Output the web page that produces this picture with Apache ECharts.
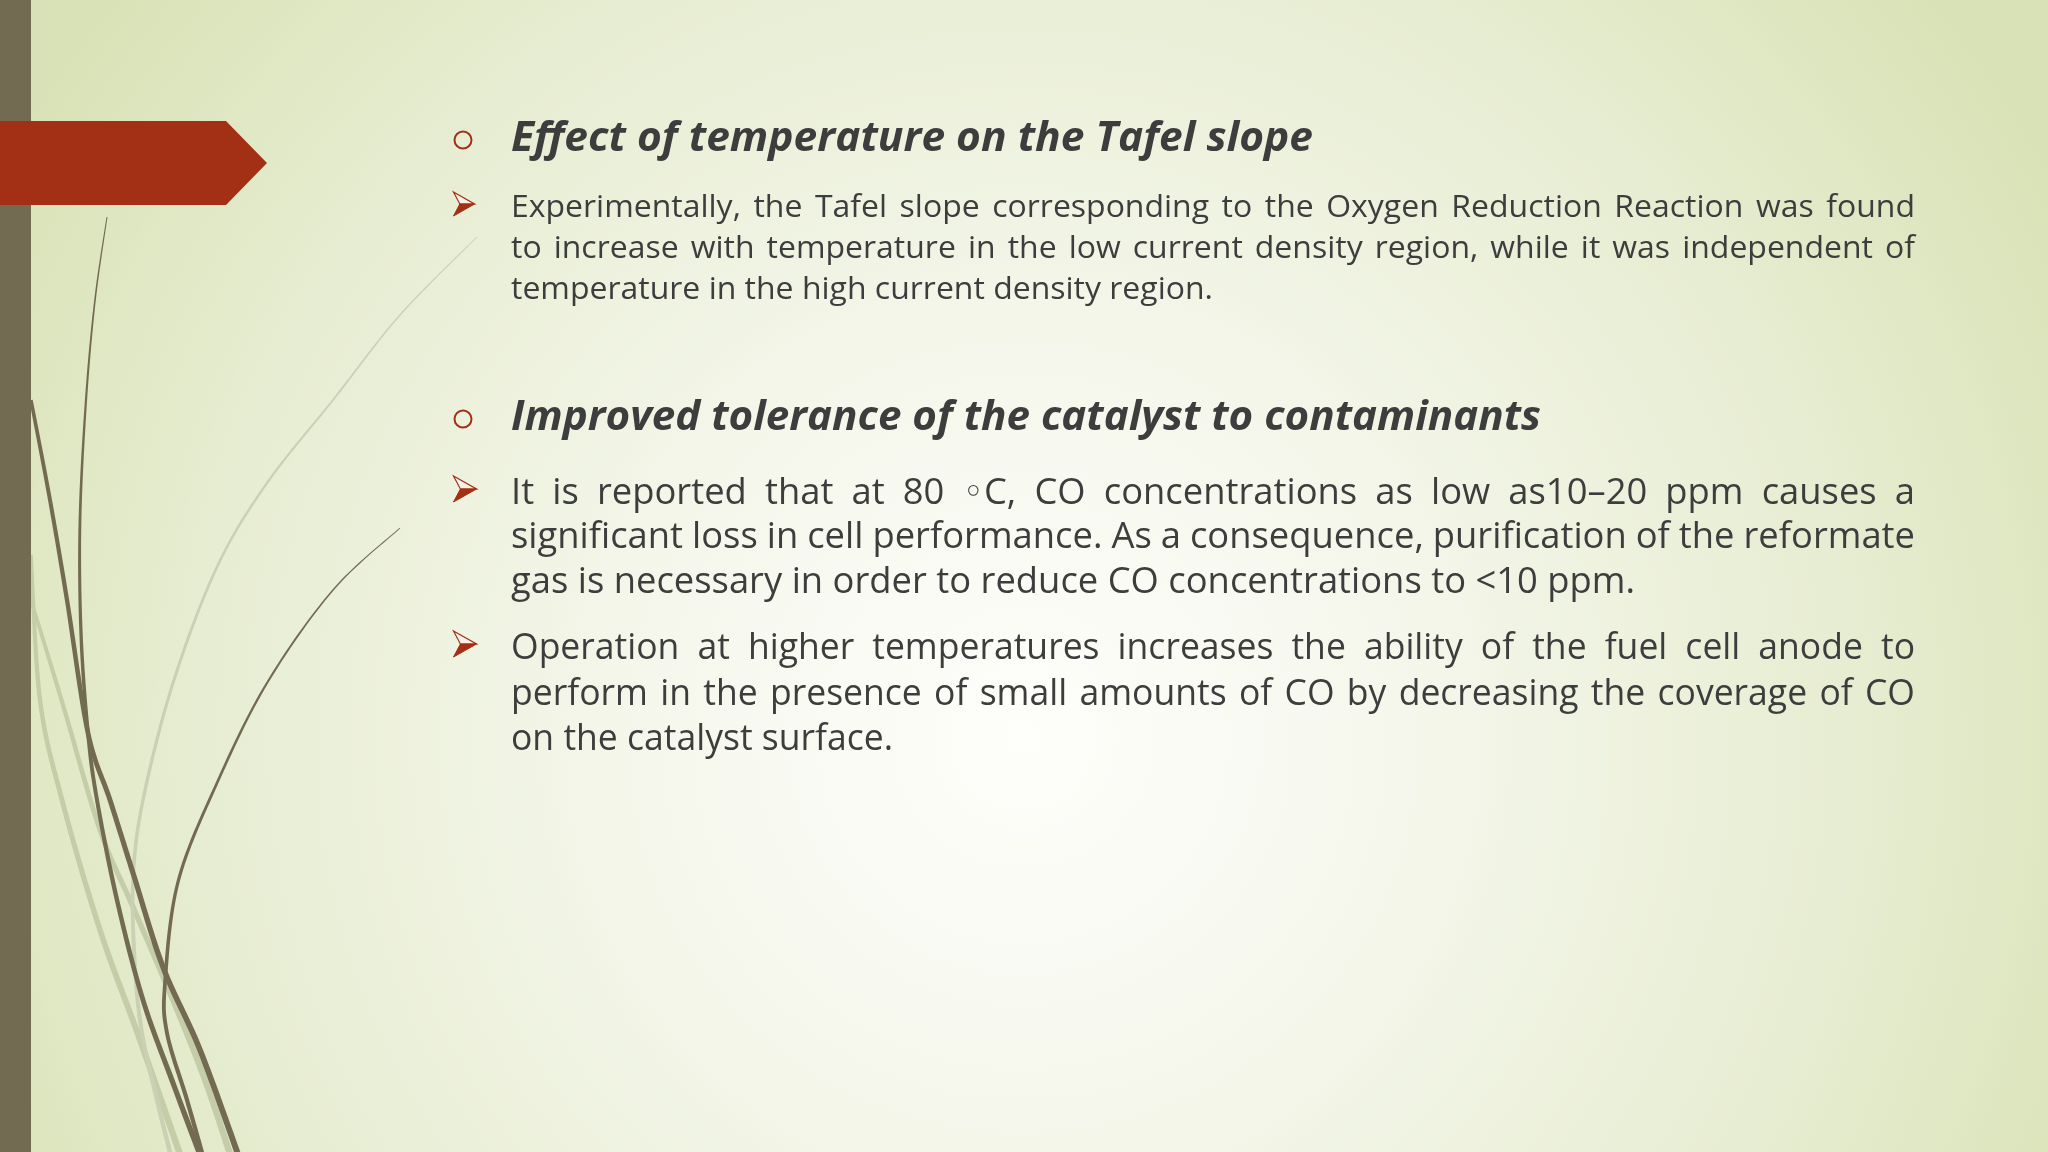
<!DOCTYPE html>
<html><head><meta charset="utf-8">
<script src="https://cdn.jsdelivr.net/npm/echarts@6/dist/echarts.min.js"></script>
<style>html,body{margin:0;padding:0;width:100%;height:100%;overflow:hidden;background:#e6ecd0}#c{width:2048px;height:1152px}</style>
</head><body><div id="c"></div><script>
// ---- content (text only) ----
const headings = [
  "Effect of temperature on the Tafel slope",
  "Improved tolerance of the catalyst to contaminants"
];
const para1Lines = [
  "Experimentally, the Tafel slope corresponding to the Oxygen Reduction Reaction was found",
  "to increase with temperature in the low current density region, while it was independent of",
  "temperature in the high current density region."
];
const para2Lines = [
  "It is reported that at 80 \u25E6C, CO concentrations as low as10\u201320 ppm causes a",
  "significant loss in cell performance. As a consequence, purification of the reformate",
  "gas is necessary in order to reduce CO concentrations to <10 ppm."
];
const para3Lines = [
  "Operation at higher temperatures increases the ability of the fuel cell anode to",
  "perform in the presence of small amounts of CO by decreasing the coverage of CO",
  "on the catalyst surface."
];

// ---- layout ----
const W = 2048, H = 1152;
const LEFT = 511, RIGHT = 1915;
const FONT = '"Open Sans", "Noto Sans", "DejaVu Sans", sans-serif';
const TEXT_COLOR = '#3d3d3d';
const RED = '#a32f15';
const DARK = '#736a52';
const LIGHT = '#c4cca8';

const chart = echarts.init(document.getElementById('c'), null, {renderer: 'canvas', width: W, height: H});
const mctx = document.createElement('canvas').getContext('2d');
function measure(t, font) { mctx.font = font; return mctx.measureText(t).width; }

const els = [];
// background
els.push({type: 'rect', shape: {x: 0, y: 0, width: W, height: H}, silent: true,
  style: {fill: {type: 'radial', x: 0.5, y: 0.64, r: 1.02, colorStops: [
    {offset: 0, color: '#fefefb'}, {offset: 0.32, color: '#f5f7ec'}, {offset: 0.7, color: '#e7edd2'}, {offset: 1, color: '#d9e2b6'}]}}});

// strands (decorative tapered curves)
function catmull(p, steps) {
  const out = [];
  for (let i = 0; i < p.length - 1; i++) {
    const p0 = p[Math.max(0, i - 1)], p1 = p[i], p2 = p[i + 1], p3 = p[Math.min(p.length - 1, i + 2)];
    for (let s = 0; s < steps; s++) {
      const t = s / steps, t2 = t * t, t3 = t2 * t;
      const f = k => 0.5 * ((2 * p1[k]) + (-p0[k] + p2[k]) * t + (2 * p0[k] - 5 * p1[k] + 4 * p2[k] - p3[k]) * t2 + (-p0[k] + 3 * p1[k] - 3 * p2[k] + p3[k]) * t3);
      out.push([f(0), f(1)]);
    }
  }
  out.push(p[p.length - 1]);
  return out;
}
function strand(points, w0, w1, color) {
  const pts = catmull(points, 16);
  const cum = [0];
  for (let i = 1; i < pts.length; i++) cum.push(cum[i - 1] + Math.hypot(pts[i][0] - pts[i - 1][0], pts[i][1] - pts[i - 1][1]));
  const L = cum[cum.length - 1];
  const a = [], b = [];
  for (let i = 0; i < pts.length; i++) {
    const pa = pts[Math.max(0, i - 1)], pb = pts[Math.min(pts.length - 1, i + 1)];
    let tx = pb[0] - pa[0], ty = pb[1] - pa[1];
    const len = Math.hypot(tx, ty) || 1; tx /= len; ty /= len;
    const t = cum[i] / L;
    const w = w0 + (w1 - w0) * Math.pow(t, 0.8);
    a.push([pts[i][0] - ty * w / 2, pts[i][1] + tx * w / 2]);
    b.push([pts[i][0] + ty * w / 2, pts[i][1] - tx * w / 2]);
  }
  els.push({type: 'polygon', silent: true, shape: {points: a.concat(b.reverse())}, style: {fill: color}});
}
// light strands
strand([[31, 555], [40, 700], [62, 800], [100, 930], [140, 1040], [182, 1160]], 3.5, 6.5, LIGHT);
strand([[31, 600], [63, 705], [100, 830], [133, 907], [173, 1000], [205, 1080], [232, 1160]], 3.5, 6.5, LIGHT);
strand([[477, 237], [400, 315], [333, 400], [267, 483], [217, 567], [173, 683], [143, 800], [133, 880], [135, 967], [142, 1033], [157, 1100], [172, 1160]], 0.8, 4.5, '#c9d0b3');
// dark strands
strand([[107, 217], [95, 300], [86, 400], [80, 520], [81, 633], [88, 733], [97, 800], [117, 900], [143, 1000], [173, 1083], [202, 1160]], 1, 5.5, DARK);
strand([[31, 400], [50, 500], [67, 600], [88, 733], [110, 800], [133, 873], [163, 967], [200, 1050], [240, 1160]], 3.5, 6, DARK);
strand([[400, 528], [333, 590], [267, 683], [217, 783], [178, 882], [165, 983], [167, 1033], [187, 1100], [204, 1160]], 0.8, 4.5, DARK);

// left bar and red tab
els.push({type: 'rect', silent: true, shape: {x: 0, y: 0, width: 31, height: H}, style: {fill: DARK}});
els.push({type: 'polygon', silent: true, shape: {points: [[0, 121], [226, 121], [267, 163], [226, 205], [0, 205]]}, style: {fill: RED}});

// bullets
function circleBullet(cx, cy) {
  els.push({type: 'circle', silent: true, shape: {cx: cx, cy: cy, r: 8.5}, style: {fill: 'none', stroke: RED, lineWidth: 2}});
}
function arrowBullet(cx, cy, h, w) {
  const L = cx - w / 2, R = cx + w / 2, N = L + w * 0.3;
  els.push({type: 'polygon', silent: true, shape: {points: [[L, cy - h], [R, cy], [N, cy]]}, style: {fill: '#f6f2ea', stroke: RED, lineWidth: 1.2, lineJoin: 'miter'}});
  els.push({type: 'polygon', silent: true, shape: {points: [[N, cy], [R, cy], [L, cy + h]]}, style: {fill: RED, stroke: RED, lineWidth: 1}});
}

// text
function textEl(t, x, baseline, size, font, sx) {
  els.push({type: 'text', silent: true, x: x, y: baseline, scaleX: sx, originX: 0, originY: 0,
    style: {text: t, x: 0, y: 0, font: font, fill: TEXT_COLOR, align: 'left', verticalAlign: 'bottom', lineHeight: size}});
}
function block(lines, baselines, size, lastWidth, fontStyle, justify) {
  const font = fontStyle + ' ' + size + 'px ' + FONT;
  const last = lines[lines.length - 1];
  const sx = lastWidth / measure(last, font);
  const descent = size * 0.27;
  lines.forEach((line, i) => {
    const y = baselines[i] + descent;
    if (justify && i < lines.length - 1) {
      const words = line.split(' ');
      const ws = words.map(w => measure(w, font) * sx);
      const total = ws.reduce((s, v) => s + v, 0);
      const gap = (RIGHT - LEFT - total) / (words.length - 1);
      let x = LEFT;
      words.forEach((w, j) => { textEl(w, x, y, size, font, sx); x += ws[j] + gap; });
    } else {
      textEl(line, LEFT, y, size, font, sx);
    }
  });
}

circleBullet(463, 140);
block([headings[0]], [149], 41, 802, 'italic bold', false);
arrowBullet(464, 204, 12, 21);
block(para1Lines, [215, 256, 297], 30.5, 702, 'normal', true);

circleBullet(463, 419);
block([headings[1]], [428], 41, 1030, 'italic bold', false);
arrowBullet(465, 489, 13, 23);
block(para2Lines, [502, 546, 591], 37, 1124, 'normal', true);
arrowBullet(465, 644, 13, 23);
block(para3Lines, [657, 703, 748], 37, 382, 'normal', true);

chart.setOption({animation: false, graphic: {elements: els}});
</script></body></html>
